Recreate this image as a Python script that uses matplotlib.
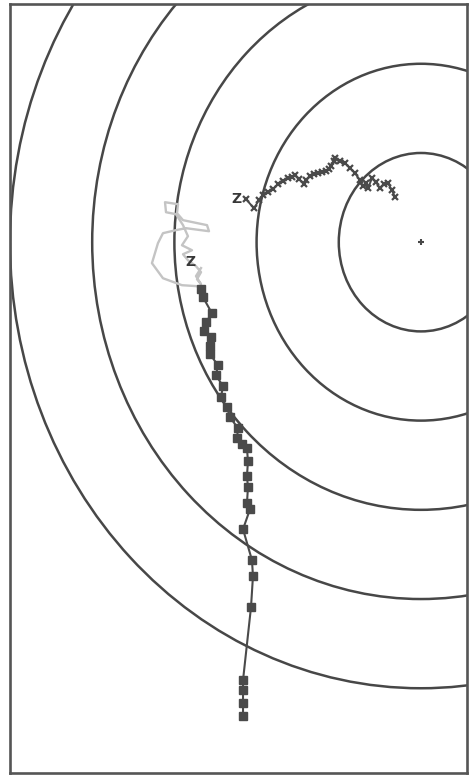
import matplotlib
matplotlib.use("Agg")
import matplotlib.pyplot as plt
from matplotlib.patches import Circle

# range rings (radius, in ring units around the centre)
ring_radii = [1, 2, 3, 4, 5]

# track 1: "x" markers, upper right
track_x_lon = [-2.129, -2.032, -1.971, -1.922, -1.861, -1.800, -1.740, -1.679,
               -1.618, -1.569, -1.533, -1.484, -1.423, -1.399, -1.350, -1.302,
               -1.253, -1.204, -1.156, -1.119, -1.095, -1.058, -1.046, -0.985,
               -0.925, -0.864, -0.803, -0.742, -0.706, -0.669, -0.645, -0.596,
               -0.547, -0.499, -0.450, -0.401, -0.353, -0.316]
track_x_lat = [0.482, 0.381, 0.471, 0.527, 0.561, 0.594, 0.650, 0.684,
               0.717, 0.729, 0.751, 0.706, 0.650, 0.695, 0.740, 0.762,
               0.774, 0.785, 0.796, 0.818, 0.852, 0.908, 0.942, 0.908,
               0.886, 0.830, 0.774, 0.695, 0.628, 0.661, 0.605, 0.717,
               0.673, 0.605, 0.650, 0.661, 0.583, 0.504]

# track 2: square markers, heading south
track_sq_lon = [-2.676, -2.652, -2.543, -2.616, -2.640, -2.555, -2.567, -2.567,
                -2.470, -2.494, -2.409, -2.433, -2.360, -2.324, -2.226, -2.238,
                -2.178, -2.117, -2.105, -2.117, -2.105, -2.117, -2.080, -2.165,
                -2.056, -2.044, -2.068, -2.165, -2.165, -2.165, -2.165]
track_sq_lat = [-0.527, -0.617, -0.796, -0.897, -0.998, -1.065, -1.166, -1.256,
                -1.379, -1.491, -1.614, -1.738, -1.850, -1.962, -2.085, -2.197,
                -2.265, -2.309, -2.455, -2.623, -2.747, -2.926, -2.993, -3.217,
                -3.565, -3.744, -4.092, -4.910, -5.022, -5.168, -5.314]

# track 3: light grey loop, no markers
track_gr_lon = [-2.652, -2.725, -2.908, -3.139, -3.273, -3.200, -3.139, -2.981,
                -2.859, -2.579, -2.603, -2.895, -2.968, -2.956, -3.114, -3.102,
                -2.981, -2.895, -2.835, -2.908, -2.786, -2.895, -2.835, -2.737,
                -2.676, -2.725, -2.676, -2.737, -2.676]
track_gr_lat = [-0.561, -0.493, -0.482, -0.404, -0.235, -0.011, 0.101, 0.135,
                0.157, 0.123, 0.191, 0.247, 0.325, 0.426, 0.448, 0.336,
                0.314, 0.191, 0.067, -0.034, -0.090, -0.135, -0.202, -0.269,
                -0.336, -0.415, -0.471, -0.380, -0.290]

# "Z" labels
label_text = ["Z", "Z"]
label_lon = [-2.251, -2.810]
label_lat = [0.482, -0.224]

dpi = 100
fig = plt.figure(figsize=(474 / dpi, 779 / dpi), dpi=dpi)
ax = fig.add_axes([10 / 474, 6 / 779, 457 / 474, 769 / 779])

ring_color = "#474747"
for r in ring_radii:
    ax.add_patch(Circle((0, 0), r, fill=False, ec=ring_color, lw=1.8, zorder=1))

ax.plot(0, 0, marker="+", ms=5, mew=1.5, color=ring_color, zorder=2)

ax.plot(track_gr_lon, track_gr_lat, color="#c4c4c4", lw=1.7, zorder=2)
ax.plot(track_sq_lon, track_sq_lat, color="#4a4a4a", lw=1.5, marker="s",
        ms=5.5, zorder=3)
ax.plot(track_x_lon, track_x_lat, color="#4a4a4a", lw=1.4, marker="x",
        ms=5, mew=1.6, zorder=3)

for t, x, y in zip(label_text, label_lon, label_lat):
    ax.text(x, y, t, fontsize=10, fontweight="bold", color="#383838",
            ha="center", va="center", zorder=4)

ax.set_xlim(-5.0, 0.56)
ax.set_ylim(-5.95, 2.67)
ax.set_xticks([])
ax.set_yticks([])
for s in ax.spines.values():
    s.set_linewidth(1.9)
    s.set_color("#555555")

fig.savefig("out.png", dpi=dpi)
